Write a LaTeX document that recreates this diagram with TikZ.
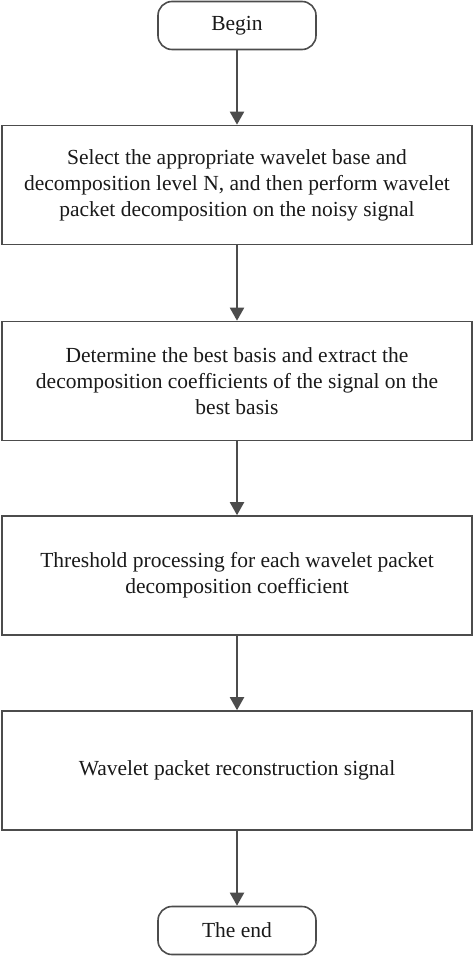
\documentclass[tikz,border=0pt]{standalone}
\usepackage{fontspec}
\setmainfont{Liberation Serif}
\usetikzlibrary{arrows.meta}
\begin{document}
\begin{tikzpicture}[x=1pt,y=-1pt,
	every node/.style={draw=black!70,line width=1.6pt,align=center,
		font=\fontsize{21.5}{26}\selectfont,text=black!90},
	term/.style={rounded corners=14pt,minimum width=158pt,minimum height=48pt},
	proc/.style={minimum width=470pt,minimum height=119pt},
	flow/.style={draw=black!70,line width=2pt,-{Triangle[width=14pt,length=13pt]}}]
\useasboundingbox (0,0) rectangle (474,957);
\node[term] (begin) at (237,25.5) {Begin};
\node[proc] (select) at (237,185) {Select the appropriate wavelet base and\\
	decomposition level N, and then perform wavelet\\
	packet decomposition on the noisy signal};
\node[proc] (basis) at (237,381) {Determine the best basis and extract the\\
	decomposition coefficients of the signal on the\\
	best basis};
\node[proc] (thresh) at (237,575.5) {Threshold processing for each wavelet packet\\
	decomposition coefficient};
\node[proc] (recon) at (237,770.5) {Wavelet packet reconstruction signal};
\node[term] (end) at (237,930.5) {The end};
\draw[flow] (begin) -- (select);
\draw[flow] (select) -- (basis);
\draw[flow] (basis) -- (thresh);
\draw[flow] (thresh) -- (recon);
\draw[flow] (recon) -- (end);
\end{tikzpicture}
\end{document}
